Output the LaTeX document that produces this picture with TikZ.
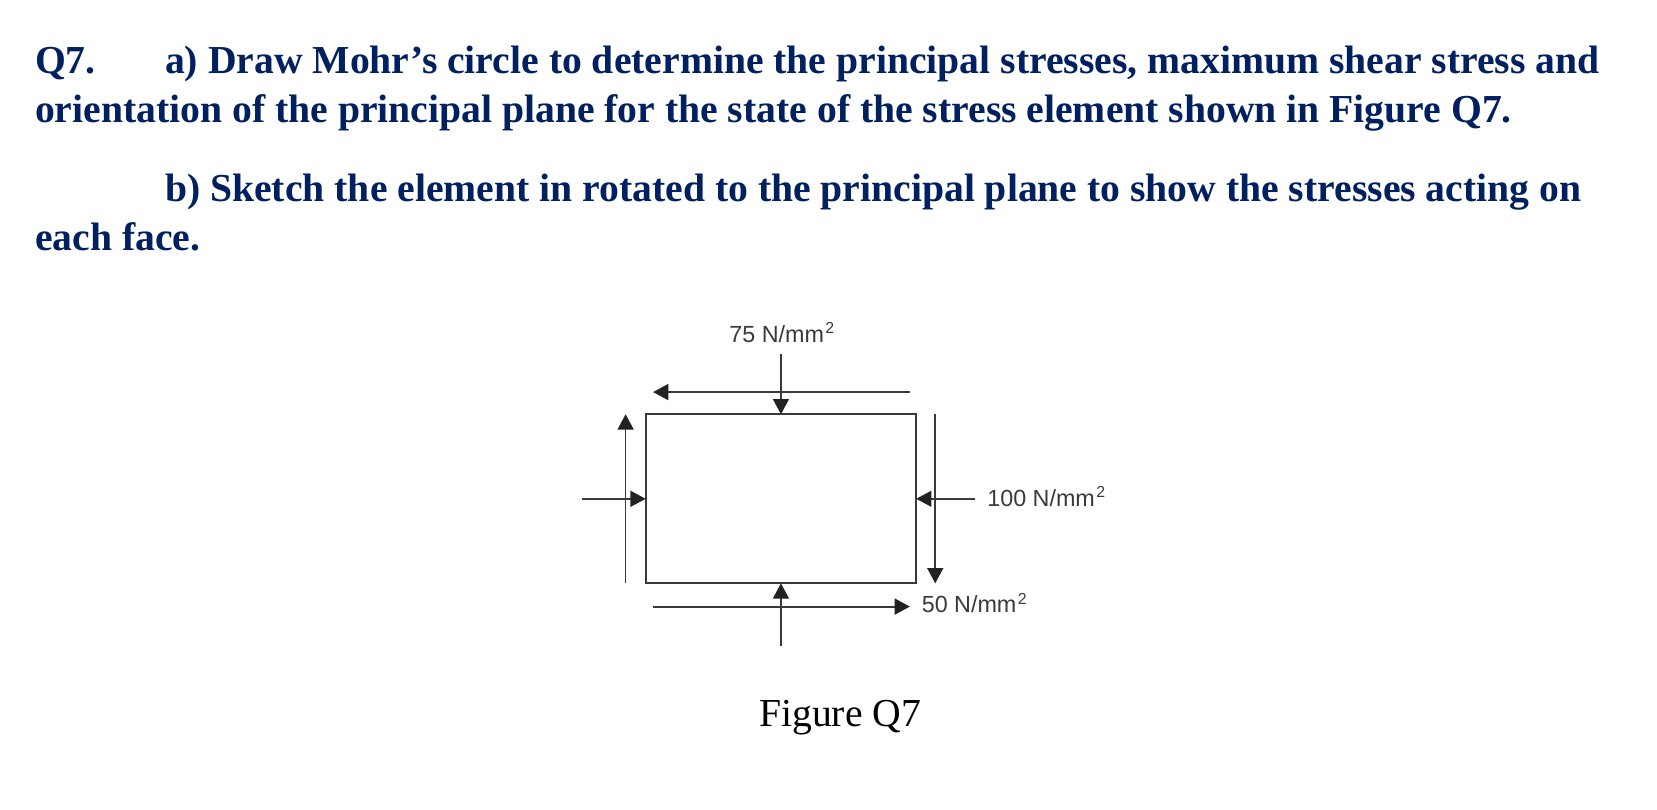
\documentclass[tikz,border=0pt]{standalone}
\usepackage{fontspec}
\setmainfont{Liberation Serif}
\newfontfamily\labelfont{Liberation Sans}
\usetikzlibrary{arrows.meta}
\definecolor{qblue}{HTML}{002060}
\definecolor{ink}{HTML}{3A3A3A}
\definecolor{tipink}{HTML}{222222}
\newcommand{\sqsup}{\kern1pt\raisebox{6.5pt}{\fontsize{12}{12}\selectfont 2}}
\tikzset{
  x=0.7968pt,y=-0.7968pt,
  qline/.style={anchor=base west,inner sep=0pt,text=qblue,font=\fontsize{29.9}{29.9}\selectfont\bfseries},
  figlabel/.style={anchor=base west,inner sep=0pt,text=ink,font=\labelfont\fontsize{17.6}{17.6}\selectfont},
  caption/.style={anchor=base,inner sep=0pt,text=black,font=\fontsize{29.9}{29.9}\selectfont},
  elem/.style={draw=ink,line width=1.4pt,inner sep=0pt},
  force/.style={draw=ink,line width=1.15pt,-{Triangle[length=11.5pt,width=12pt,color=tipink]}},
  heavy/.style={force,line width=1.6pt}
}
\begin{document}
\begin{tikzpicture}
\useasboundingbox (0,0) rectangle (1568,766);
\node[qline] (q) at (33,70) {Q7.};
\node[qline] (l1) at (156,70) {a) Draw Mohr’s circle to determine the principal stresses, maximum shear stress and};
\node[qline] (l2) at (33,116) {orientation of the principal plane for the state of the stress element shown in Figure Q7.};
\node[qline] (l3) at (156,191) {b) Sketch the element in rotated to the principal plane to show the stresses acting on};
\node[qline] (l4) at (33,237) {each face.};
\coordinate (tl) at (611,392); \coordinate (br) at (867,552);
\draw[elem] (tl) rectangle (br);
\coordinate (topc) at (739,392); \coordinate (botc) at (739,552);
\coordinate (lc) at (611,472); \coordinate (rc) at (867,472);
\coordinate (t0) at (739,335); \coordinate (b0) at (739,611);
\coordinate (l0) at (551,472); \coordinate (r0) at (923,472);
\draw[force] (t0) -- (topc);
\draw[force] (b0) -- (botc);
\draw[force] (l0) -- (lc);
\draw[force] (r0) -- (rc);
\coordinate (sts) at (861,371); \coordinate (ste) at (618,371);
\coordinate (sbs) at (618,574); \coordinate (sbe) at (861,574);
\coordinate (sls) at (592,552); \coordinate (sle) at (592,392);
\coordinate (srs) at (885,392); \coordinate (sre) at (885,552);
\draw[heavy] (sts) -- (ste);
\draw[heavy] (sbs) -- (sbe);
\draw[force] (sls) -- (sle);
\draw[force] (srs) -- (sre);
\node[figlabel] (a) at (690,324) {75 N/mm\sqsup};
\node[figlabel] (b) at (934,479) {100 N/mm\sqsup};
\node[figlabel] (c) at (872,580) {50 N/mm\sqsup};
\node[caption] (cap) at (795,687) {Figure Q7};
\end{tikzpicture}
\end{document}
